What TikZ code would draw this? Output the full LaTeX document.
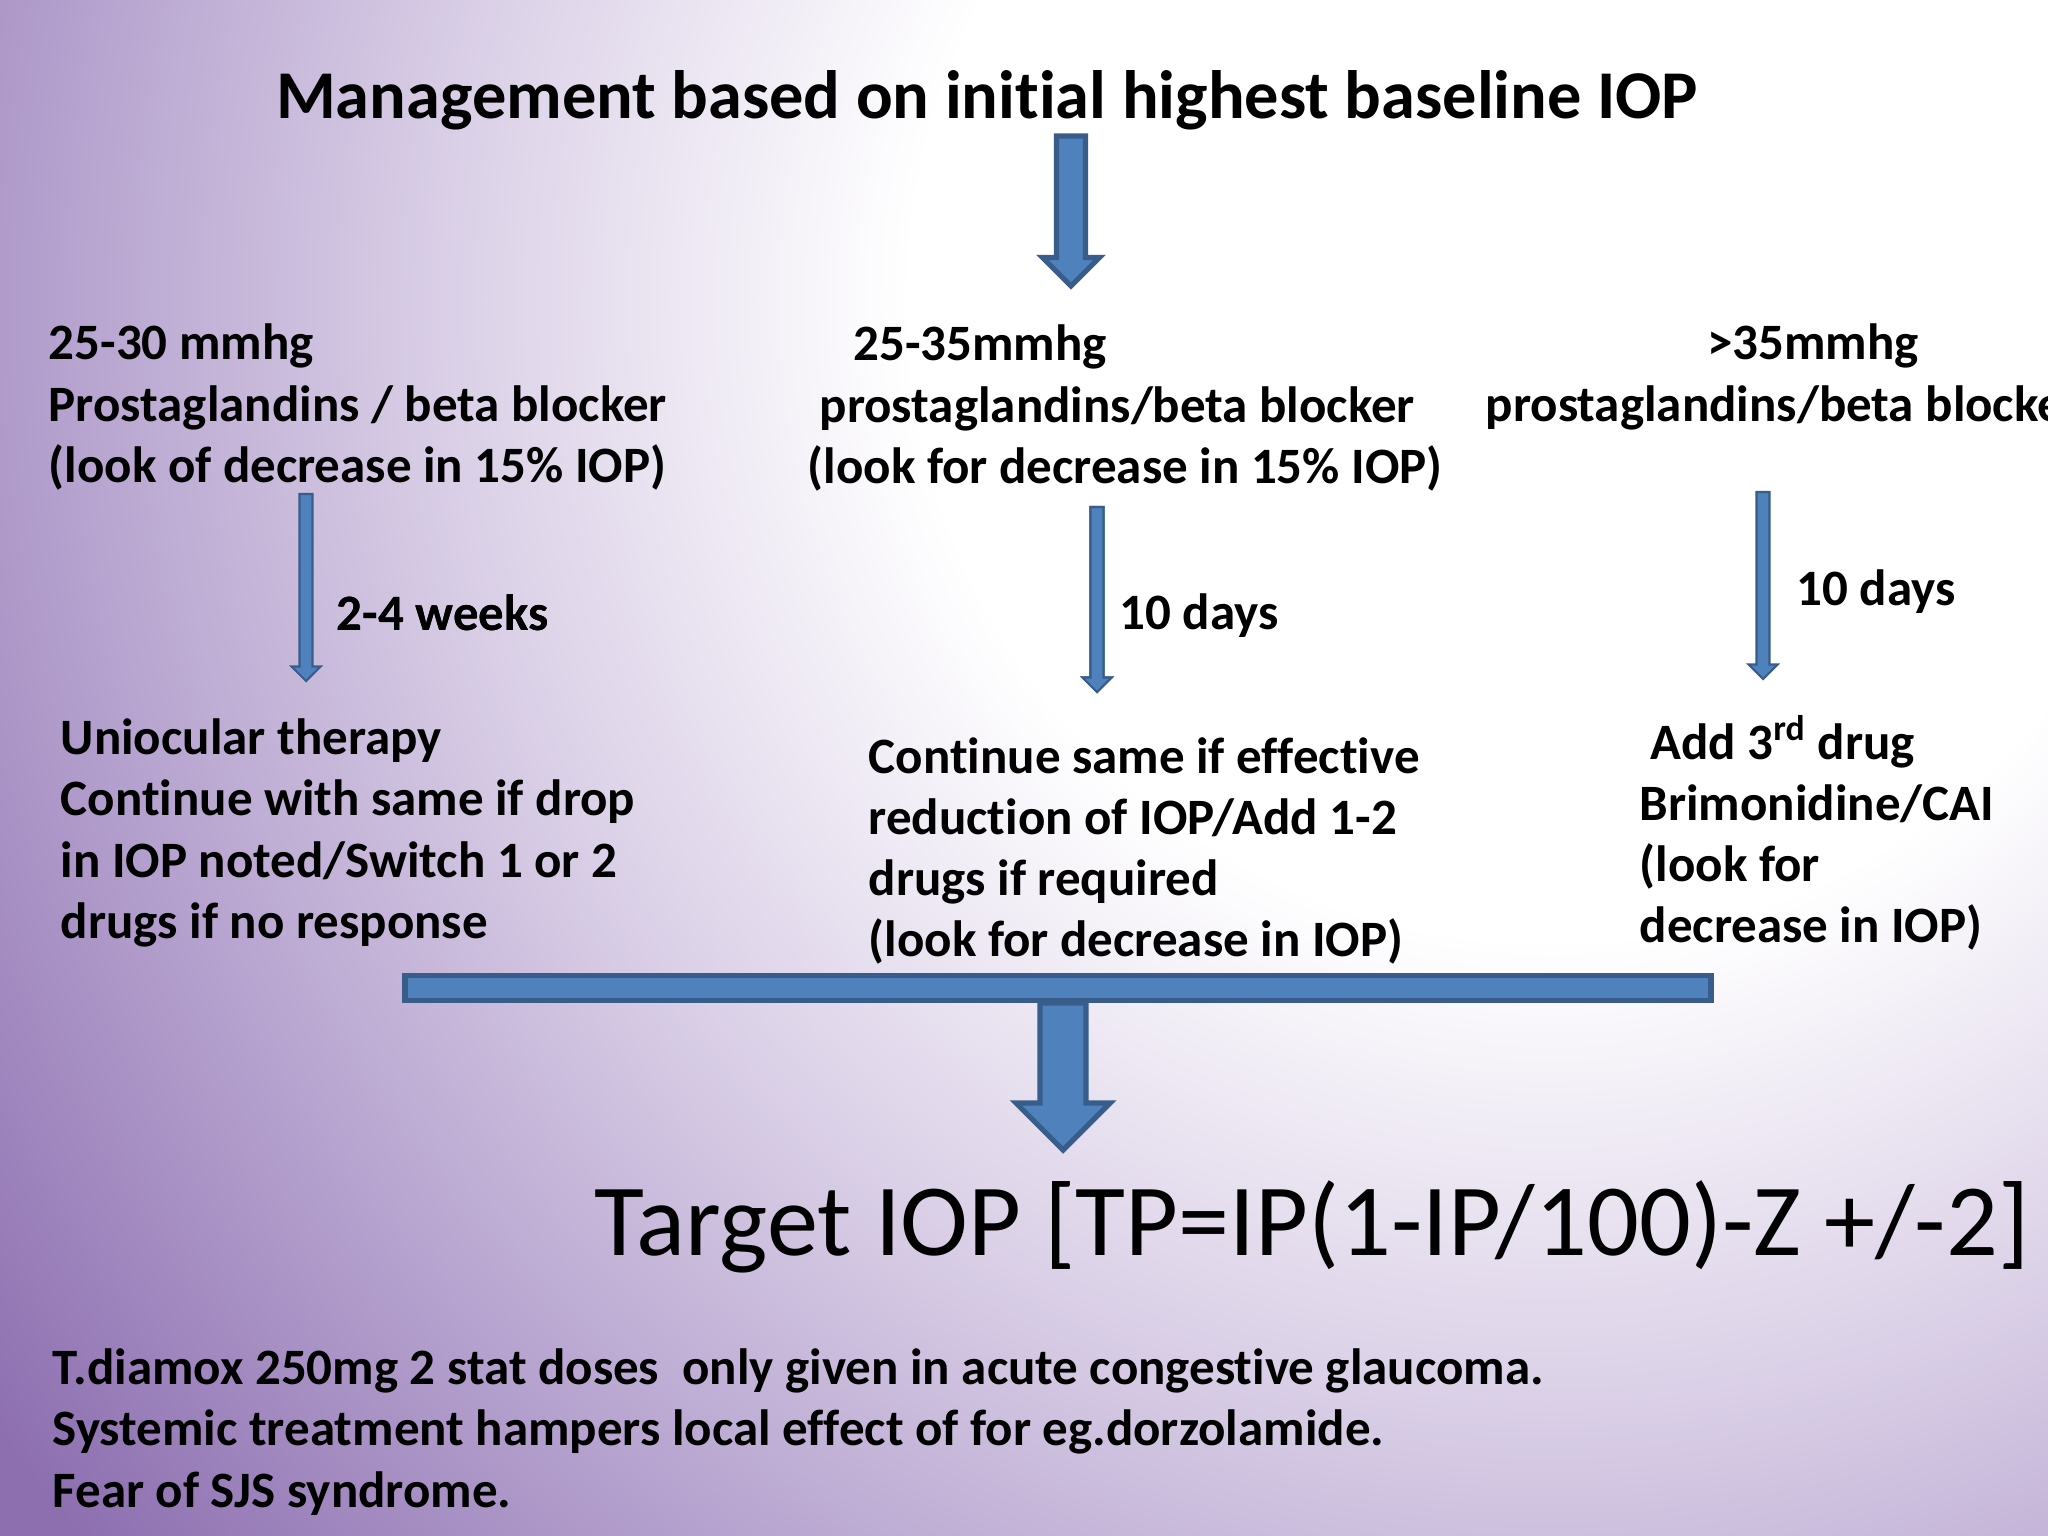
\documentclass[tikz,border=0pt]{standalone}
\usepackage{fontspec}
\setmainfont{Carlito}[Ligatures=NoCommon]
\usetikzlibrary{calc}
\definecolor{cfill}{HTML}{4F81BD}
\definecolor{cedge}{HTML}{385D8A}
\definecolor{bgpale}{HTML}{DCD2E8}
\definecolor{bgmid}{HTML}{B6A3CF}
\definecolor{bgdeep}{HTML}{8D6FB0}
\pgfdeclareradialshading{slidebg}{\pgfpoint{0bp}{0bp}}{color(0bp)=(white); color(8bp)=(white); color(13.5bp)=(bgpale); color(18.5bp)=(bgmid); color(24bp)=(bgdeep); color(50bp)=(bgdeep)}
\tikzset{
  every picture/.style={x=0.01cm, y=-0.01cm},
  txt/.style={font=\fontsize{14.5}{17.4}\selectfont\bfseries, align=left, inner sep=0pt, anchor=west},
  heading/.style={font=\fontsize{19.45}{23}\selectfont\bfseries, inner sep=0pt},
  formula/.style={font=\fontsize{29.1}{34}\selectfont, inner sep=0pt, anchor=west},
  fatarrow/.style={fill=cfill, draw=cedge, line width=1.5pt},
  slimarrow/.style={fill=cfill, draw=cedge, line width=0.6pt},
  bar/.style={fill=cfill, draw=cedge, line width=1.5pt, minimum width=13.05cm, minimum height=0.25cm, inner sep=0pt},
}
\newcommand{\blockarrow}[5]{\draw[#1] (#2) ++(-#4,0) -- ++(0,#3-#5) -- ++(#4-#5,0) -- ++(#5,#5) -- ++(#5,-#5) -- ++(#4-#5,0) -- ++(0,#5-#3) -- cycle;}

\begin{document}
\begin{tikzpicture}
  \useasboundingbox (0,0) rectangle (2048,1536);
  \clip (0,0) rectangle (2048,1536);
  \shade[shading=slidebg] (1550,300) circle (20cm);

  \node[heading] (title) at (987,100) {Management based on initial highest baseline IOP};
  \coordinate (split) at (1071,136);
  \blockarrow{fatarrow}{split}{150}{14.5}{28.5}

  \node[txt] (rangeA) at (48,407) {25-30 mmhg\\Prostaglandins / beta blocker\\(look of decrease in 15\% IOP)};
  \node[txt] (rangeB) at (807,408) {\hspace*{13pt}25-35mmhg\\\hspace*{3.4pt}prostaglandins/beta blocker\\(look for decrease in 15\% IOP)};
  \node[txt] (rangeC) at (1485,377) {\hspace*{63pt}>35mmhg\\prostaglandins/beta blocker};

  \foreach \n/\x/\y in {A/306/494, B/1097/507, C/1763/492} \coordinate (go\n) at (\x,\y);
  \foreach \n in {A,C} \blockarrow{slimarrow}{go\n}{187}{6.5}{14.5}
  \blockarrow{slimarrow}{goB}{185}{6.5}{14.5}
  \node[txt] (stepA) at (336,613) {2-4 weeks};
  \node[txt] (stepB) at (1119,616) {10 days};
  \node[txt] (stepC) at (1796,592) {10 days};

  \node[txt] (planA) at (60,833) {Uniocular therapy\\Continue with same if drop\\in IOP noted/Switch 1 or 2\\drugs if no response};
  \node[txt] (planB) at (868,851) {Continue same if effective\\reduction of IOP/Add 1-2\\drugs if required\\(look for decrease in IOP)};
  \node[txt] (planC) at (1639,833) {\hspace*{3pt}Add 3\textsuperscript{rd} drug\\Brimonidine/CAI\\(look for\\decrease in IOP)};

  \coordinate (merge) at (1063,1003);
  \blockarrow{fatarrow}{merge}{147}{23}{47}
  \node[bar] (bar) at (1058,988) {};

  \node[formula] (target) at (594,1227) {Target IOP [TP=IP(1-IP/100)-Z +/-2]};
  \node[txt] (notes) at (52,1432) {T.diamox 250mg 2 stat doses\ \ only given in acute congestive glaucoma.\\Systemic treatment hampers local effect of for eg.dorzolamide.\\Fear of SJS syndrome.};
\end{tikzpicture}
\end{document}
